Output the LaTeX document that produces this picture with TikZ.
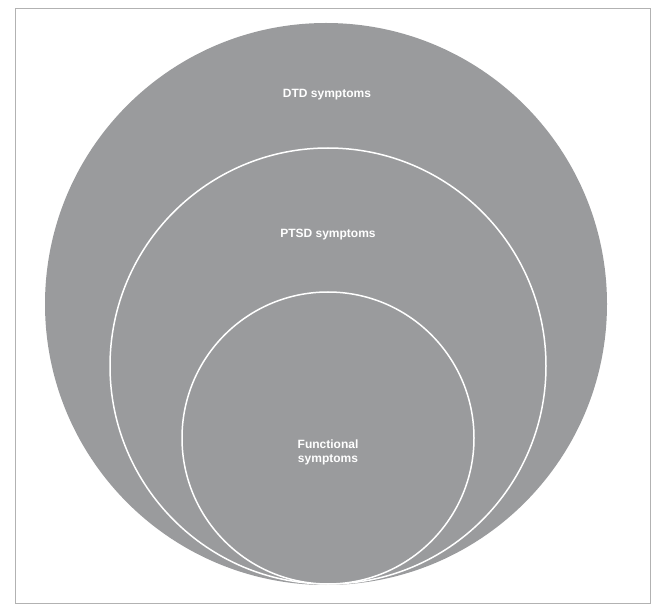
\documentclass[tikz,border=0pt]{standalone}
\usepackage{fontspec}
\setmainfont{Liberation Sans}
\begin{document}
\begin{tikzpicture}[x=1pt,y=-1pt,
  disc/.style={fill=fillgray,draw=white,line width=1.5pt},
  lbl/.style={text=white,font=\bfseries\fontsize{12}{14}\selectfont,align=center}]
\definecolor{fillgray}{HTML}{9A9B9D}
\useasboundingbox (0,0) rectangle (662,612);
\draw[gray!60,line width=0.8pt] (15,8) rectangle (650,603);
\fill[fillgray] (326,304) circle (281);
\draw[disc] (328,366) circle (218);
\draw[disc] (328,438) circle (146);
\node[lbl] (dtd) at (327,95) {DTD symptoms};
\node[lbl] (ptsd) at (328,235) {PTSD symptoms};
\node[lbl] (fun) at (328,452) {Functional\\symptoms};
\end{tikzpicture}
\end{document}
